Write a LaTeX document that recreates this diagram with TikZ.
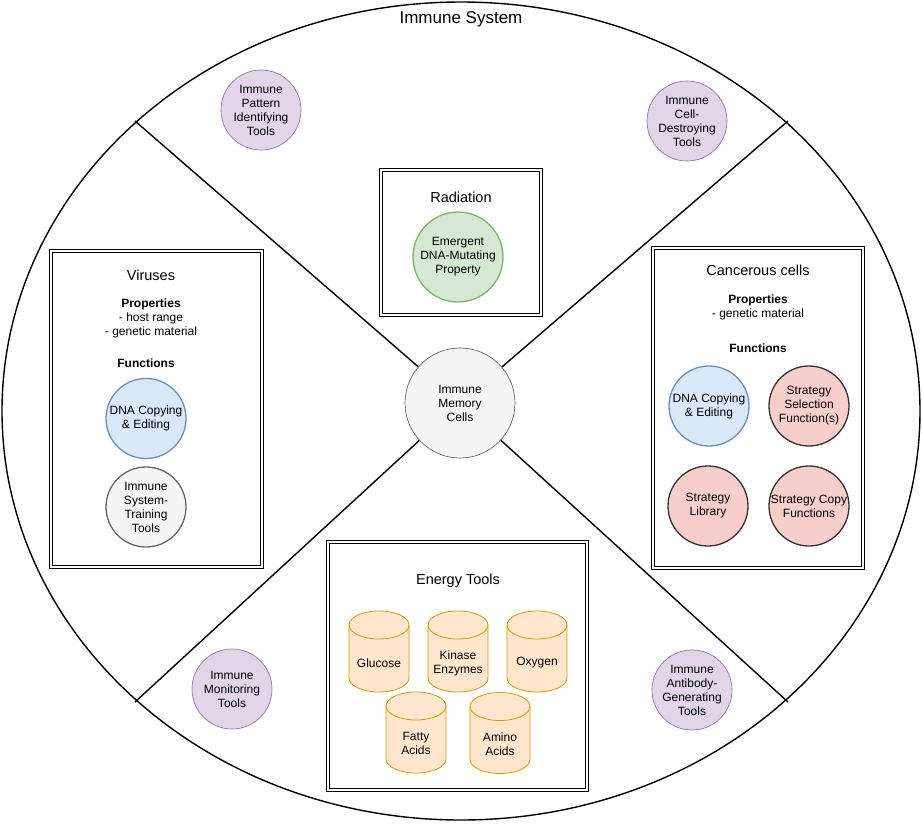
\documentclass[tikz,border=0pt]{standalone}
\usepackage{fontspec}
\setmainfont{Liberation Sans}
\usetikzlibrary{positioning,shapes.geometric}
\definecolor{ToolPurple}{HTML}{E1D5E7}
\definecolor{ToolPurpleEdge}{HTML}{9673A6}
\definecolor{DnaBlue}{HTML}{DAE8FC}
\definecolor{DnaBlueEdge}{HTML}{6C8EBF}
\definecolor{RadGreen}{HTML}{D5E8D4}
\definecolor{RadGreenEdge}{HTML}{82B366}
\definecolor{StratRed}{HTML}{F8CECC}
\definecolor{SoftGray}{HTML}{F5F5F5}
\definecolor{MidGray}{HTML}{666666}
\definecolor{FuelOrange}{HTML}{FFE6CC}
\definecolor{FuelOrangeEdge}{HTML}{D79B00}
\tikzset{
	cell/.style={circle,draw,line width=1pt,minimum size=80pt,inner sep=0pt,align=center,
		font=\fontsize{12}{14}\selectfont},
	tool/.style={cell,fill=ToolPurple,draw=ToolPurpleEdge,line width=0.7pt},
	dna/.style={cell,fill=DnaBlue,draw=DnaBlueEdge,line width=1.3pt},
	strat/.style={cell,fill=StratRed,draw=black!80,line width=1.3pt},
	unit/.style={draw,double,double distance=2pt,line width=0.7pt,inner sep=0pt},
	title/.style={font=\fontsize{14.5}{17}\selectfont},
	note/.style={align=center,font=\fontsize{12}{14}\selectfont},
	can/.style={draw=FuelOrangeEdge,fill=FuelOrange,line width=0.8pt},
	fuel/.style={inner sep=0pt,align=center,font=\fontsize{12}{14}\selectfont},
	divide/.style={line width=1.4pt},
}
\begin{document}
\begin{tikzpicture}[x=1pt,y=-1pt]
	\useasboundingbox (0,0) rectangle (922,823);
	\coordinate (tl) at (135,121);
	\coordinate (tr) at (788,121);
	\coordinate (bl) at (135,702);
	\coordinate (br) at (788,702);
	% outer system
	\node[ellipse,draw,line width=1.4pt,minimum width=918pt,minimum height=818pt,inner sep=0pt] (sys) at (461,411) {};
	\node[font=\fontsize{17}{20}\selectfont] (systitle) at (461,19) {Immune System};
	\node[cell,fill=SoftGray,draw=MidGray,line width=0.7pt,minimum size=110pt] (mem) at (460,403) {Immune\\Memory\\Cells};
	\draw[divide] (tl)--(mem);
	\draw[divide] (tr)--(mem);
	\draw[divide] (bl)--(mem);
	\draw[divide] (br)--(mem);
	% immune tools
	\node[tool] (pattern) at (261,110) {Immune\\Pattern\\Identifying\\Tools};
	\node[tool] (destroy) at (687,121) {Immune\\Cell-\\Destroying\\Tools};
	\node[tool] (monitor) at (232,689) {Immune\\Monitoring\\Tools};
	\node[tool] (antibody) at (692,690) {Immune\\Antibody-\\Generating\\Tools};
	% radiation
	\node[unit,minimum width=160pt,minimum height=145pt] (radbox) at (461,242.5) {};
	\node[title] (radtitle) at (461,197) {Radiation};
	\node[cell,fill=RadGreen,draw=RadGreenEdge,line width=1.3pt,minimum size=90pt] (mutate) at (458,257) {Emergent\\DNA-Mutating\\Property};
	% viruses
	\node[unit,minimum width=211pt,minimum height=316pt] (virbox) at (156.5,409) {};
	\node[title] (virtitle) at (151,275) {Viruses};
	\node[note] (virprops) at (151,318) {\textbf{Properties}\\- host range\\- genetic material};
	\node[note] (virfuncs) at (146,363) {\textbf{Functions}};
	\node[dna] (vircopy) at (146,418.5) {DNA Copying\\\& Editing};
	\node[cell,fill=SoftGray,draw=MidGray,line width=1.3pt] (training) at (146,507) {Immune\\System-\\Training\\Tools};
	% cancerous cells
	\node[unit,minimum width=210pt,minimum height=320pt] (canbox) at (758,408) {};
	\node[title] (cantitle) at (758,270) {Cancerous cells};
	\node[note] (canprops) at (758,307) {\textbf{Properties}\\- genetic material};
	\node[note] (canfuncs) at (758,348) {\textbf{Functions}};
	\node[dna] (cancopy) at (709,406) {DNA Copying\\\& Editing};
	\node[strat] (select) at (809,406) {Strategy\\Selection\\Function(s)};
	\node[strat] (library) at (708,506) {Strategy\\Library};
	\node[strat] (stratcopy) at (809,506) {Strategy Copy\\Functions};
	% energy tools
	\node[unit,minimum width=259pt,minimum height=248pt] (enbox) at (457.5,666) {};
	\node[title] (entitle) at (458,581) {Energy Tools};
	\foreach \cx/\cy in {379/651.5,458/651.5,537/651.5,416/732.5,500/733}{
		\draw[can] (\cx-30,\cy-26.5) -- (\cx-30,\cy+26.5)
			arc[start angle=180,end angle=0,x radius=30,y radius=14]
			-- (\cx+30,\cy-26.5)
			arc[start angle=0,end angle=-180,x radius=30,y radius=14] -- cycle;
		\draw[can,fill=none] (\cx-30,\cy-26.5) arc[start angle=180,end angle=0,x radius=30,y radius=14];
	}
	\node[fuel] (glucose) at (379,663) {Glucose};
	\node[fuel] (kinase) at (458,663) {Kinase\\Enzymes};
	\node[fuel] (oxygen) at (537,663) {Oxygen};
	\node[fuel] (fatty) at (416,743) {Fatty\\Acids};
	\node[fuel] (amino) at (500,744) {Amino\\Acids};
\end{tikzpicture}
\end{document}
